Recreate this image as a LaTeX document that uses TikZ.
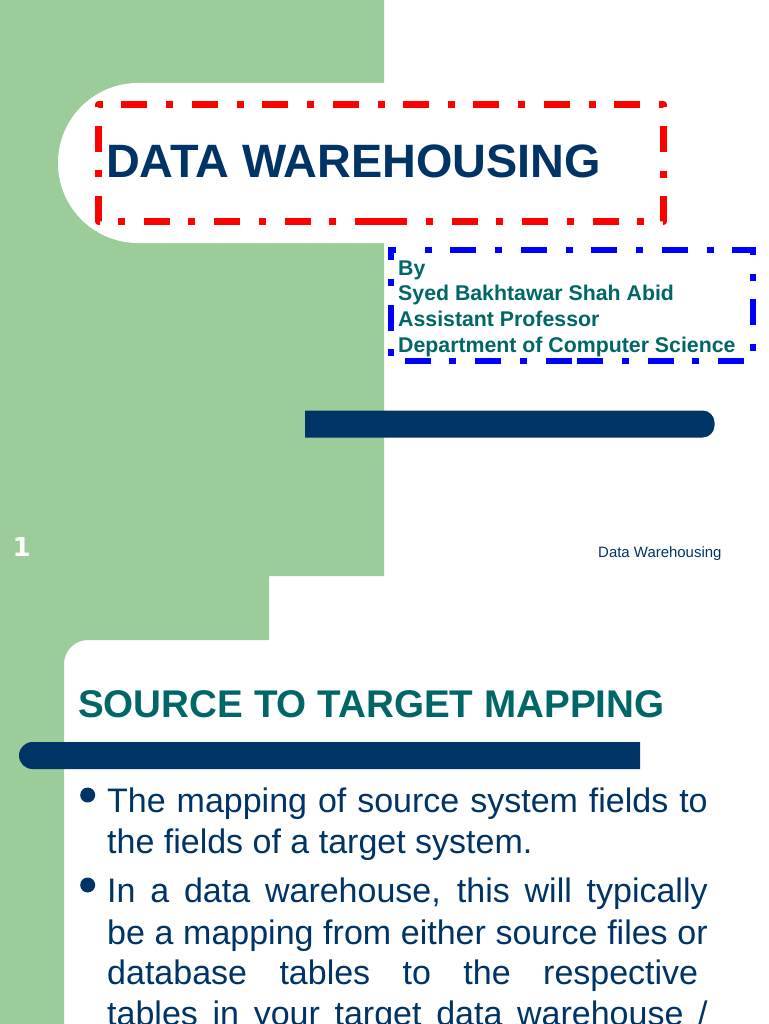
\documentclass[tikz,border=0pt]{standalone}
\usepackage{fontspec}
\setmainfont{Liberation Sans}
\newfontfamily\numfont{DejaVu Sans}
\definecolor{slidegreen}{HTML}{9CCC9A}
\definecolor{slidenavy}{HTML}{003366}
\definecolor{slideteal}{HTML}{006666}
\newcommand{\pxfont}[1]{\fontsize{#1}{#1}\selectfont}
\tikzset{
  txt/.style={inner sep=0pt,anchor=base west},
  bodyline/.style={txt,text=slidenavy,font=\pxfont{34}},
  byline/.style={txt,text=slideteal,font=\pxfont{21.3}\bfseries},
  mixdash/.style={line width=#1,dash pattern=on 26pt off 19pt on 7pt off 18.4pt}
}
\begin{document}
\begin{tikzpicture}[x=1pt,y=-1pt]
\useasboundingbox (0,0) rectangle (768,1024);
\clip (0,0) rectangle (768,1024);
% green ground
\fill[slidegreen] (0,0) -- (384,0) -- (384,576) -- (269,576) -- (269,640) -- (88,640)
  arc[start angle=270,end angle=180,radius=24] -- (64,1024) -- (0,1024) -- cycle;
\fill[white] (386,83) -- (138,83) arc[start angle=270,end angle=90,radius=80] -- (386,243) -- cycle;
%
% bars
\fill[slidenavy] (305,410.5) -- (702.5,410.5) arc[start angle=270,end angle=360,radius=12]
  -- (714.5,425.5) arc[start angle=0,end angle=90,radius=12] -- (305,437.5) -- cycle;
\fill[slidenavy] (640,742) -- (32.5,742) arc[start angle=270,end angle=90,radius=13.5] -- (640,769) -- cycle;
%
% dashed frames
\draw[red,mixdash=7pt,line join=round] (381,221.5) -- (98.5,221.5) -- (98.5,104.5) -- (663.5,104.5) -- (663.5,221.5) -- (381,221.5);
\draw[blue,mixdash=6pt] (571.5,361) -- (390.5,361) -- (390.5,250) -- (396,250);
\draw[blue,mixdash=6pt,dash phase=45pt] (425,250) -- (753,250) -- (753,361) -- (577,361);
%
% slide 1
\node[txt,text=slidenavy,font=\pxfont{46.8}\bfseries] (title1) at (106,178) {DATA WAREHOUSING};
\node[byline] (by) at (398,275) {By};
\node[byline] (author) at (398,300) {Syed Bakhtawar Shah Abid};
\node[byline] (post) at (398,326) {Assistant Professor};
\node[byline] (dept) at (398,352) {Department of Computer Science};
\node[txt,text=white,font=\pxfont{26}\numfont\bfseries] (num1) at (12.5,556) {1};
\node[txt,text=slidenavy,font=\pxfont{14.95}] (foot1) at (598,557) {Data Warehousing};
%
% slide 2
\node[txt,text=slideteal,font=\pxfont{38.6}\bfseries] (title2) at (78,717.5) {SOURCE TO TARGET MAPPING};
\foreach \bulety in {795,885}
\fill[slidenavy] (87.7,\bulety) circle (7.5);
\node[bodyline] (line1) at (107,812) {\makebox[600.5pt][s]{The mapping of source system fields to}};
\node[bodyline] (line2) at (107,853) {the fields of a target system.};
\node[bodyline] (line3) at (107,902) {\makebox[600.5pt][s]{In a data warehouse, this will typically}};
\node[bodyline] (line4) at (107,944) {\makebox[600.5pt][s]{be a mapping from either source files or}};
\node[bodyline] (line5) at (107,984) {\makebox[591pt][s]{database tables to the respective}};
\node[bodyline] (line6) at (107,1025) {\makebox[600.5pt][s]{tables in your target data warehouse /}};
\end{tikzpicture}
\end{document}
